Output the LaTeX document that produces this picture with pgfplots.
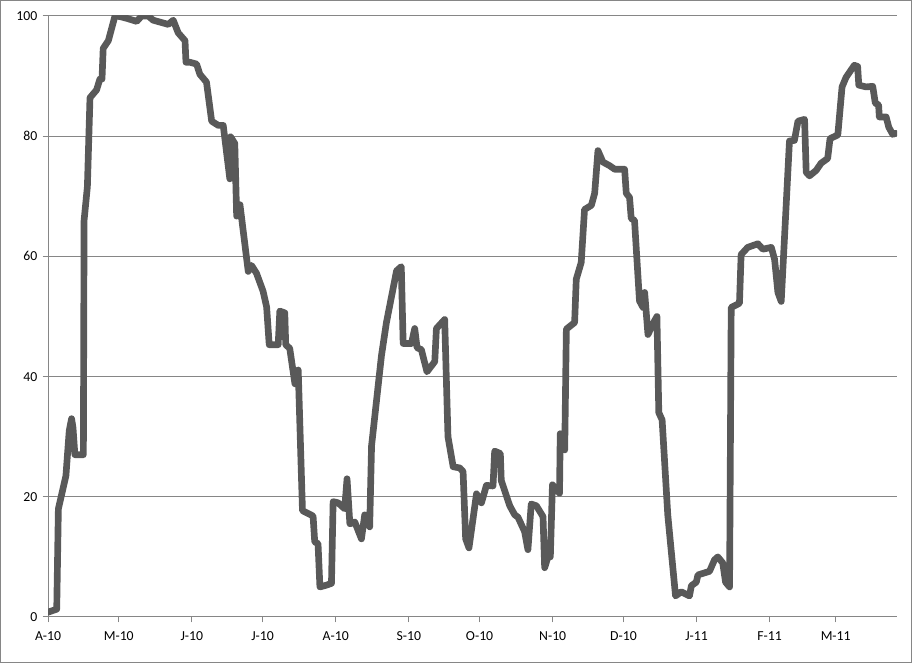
\documentclass[border=0pt]{standalone}
\usepackage{pgfplots}
\pgfplotsset{compat=1.18}
\usepackage{fontspec}
\setmainfont{Carlito}
\definecolor{gridgray}{HTML}{868686}
\definecolor{linegray}{HTML}{595959}
\begin{document}
\begin{tikzpicture}
\useasboundingbox (0,0) rectangle (684.75pt,497.25pt);
\draw[gridgray, line width=0.75pt] (0.6pt,0.6pt) rectangle (683.9pt,496.6pt);
\begin{axis}[
  at={(36pt,34.5pt)}, anchor=south west,
  scale only axis, width=636.75pt, height=450.75pt,
  xmin=0, xmax=360, ymin=0, ymax=100,
  xtick={0,30,61,91,122,153,183,214,244,275,306,334},
  xticklabels={A-10,M-10,J-10,J-10,A-10,S-10,O-10,N-10,D-10,J-11,F-11,M-11},
  ytick={0,20,40,60,80,100},
  ymajorgrids, grid style={gridgray, line width=0.75pt},
  axis x line*=bottom, axis y line*=left,
  axis line style={gridgray, line width=0.75pt, -},
  tick style={gridgray, line width=0.75pt},
  tick align=outside, major tick length=4pt,
  tick label style={font=\fontsize{10.3}{12}\selectfont, text=black},
  xticklabel style={yshift=-3.5pt},
  yticklabel style={xshift=-0.5pt},
  /pgf/number format/assume math mode=true,
]
\addplot[linegray, line width=5pt, line join=round, line cap=round] coordinates {
(0,0.8) (3.7,1.3) (4.4,18) (7.6,23.5) (9.0,31) (10.0,33) (10.6,31.5) (11.4,27) (15.0,27)
(15.3,66) (16.7,71.6) (17.8,86.4) (20.6,87.7) (22,89.5) (22.9,89.5) (23.4,94.6) (25.6,95.9)
(28.4,100) (30.5,99.9) (33.5,99.6) (37.6,99.1) (39.7,100) (42.5,100) (44.6,99.3) (51.0,98.6)
(53.1,99.3) (55.2,97.2) (58.1,95.9) (58.5,92.3) (60.2,92.3) (63.0,92) (64.4,90.3) (67.2,89)
(69.4,82.5) (72.2,81.8) (74.3,81.8) (77.1,72.9) (77.4,79.9) (79.2,78.8) (80.0,66.7) (81.4,68.6)
(84.9,57.5) (86.3,58.5) (88.4,57.2) (91.2,54.2) (92.7,51.6) (93.8,45.3) (97.6,45.3) (98.3,50.9)
(100.4,50.6) (100.8,45.3) (102.5,44.7) (104.7,38.8) (106.1,41.1) (107.9,17.7) (112.4,16.8)
(113.1,12.5) (114.5,12.2) (115.3,5) (118.1,5.3) (120.2,5.6) (120.9,19.2) (123.0,19) (125.8,18)
(126.8,23) (128,15.5) (130.1,15.8) (132.9,13) (134.3,17) (136.4,15) (137.2,28.5) (140,38.5)
(141.4,43.5) (143.5,49) (147.8,57.6) (149.8,58.3) (150.6,45.5) (154.1,45.5) (155.5,48)
(156.5,44.8) (158.3,44.5) (160.7,40.8) (164,42.5) (164.7,48) (168.2,49.5) (169.6,30) (171.8,25)
(174.6,24.8) (176,24.2) (177.1,13) (178.5,11.5) (181.7,20.5) (183.8,19) (185.9,21.9) (188.7,21.8)
(189.4,27.6) (191.8,27.2) (192.2,22.7) (195.8,18.5) (197.9,17.0) (199.3,16.6) (202.1,14.2)
(203.5,11.2) (204.9,18.8) (207.1,18.5) (209.9,16.7) (210.6,8.2) (212,10) (213,10) (213.9,22)
(216.9,20.6) (217.2,30.5) (219.1,27.8) (219.8,47.9) (223.3,49) (224,56.2) (226.1,59) (227.5,67.8)
(230.4,68.5) (231.8,70.5) (233.2,77.6) (235.3,75.7) (238.1,75.1) (240.3,74.5) (244.5,74.5)
(245.2,70.5) (246.6,69.8) (247.3,66.3) (248.7,66) (250.8,52.6) (252.3,51.5) (253,54) (254.4,47)
(256.8,49) (258.2,50) (259,34) (260.4,32.8) (262.8,17) (266.1,3.5) (268.5,4.2) (272,3.5)
(272.8,5.2) (274.9,5.8) (275.6,7) (280.5,7.6) (282.6,9.5) (284,10) (286.1,9) (287.3,5.8) (289,5)
(289.7,51.5) (293.2,52.2) (293.9,60.3) (296.7,61.5) (301.0,62.1) (303.1,61.2) (306.7,61.5)
(308.1,59.5) (309.5,54) (310.9,52.5) (314.4,79.2) (316.5,79.3) (318,82.5) (320.8,82.8) (321.5,74)
(322.9,73.4) (325.7,74.3) (327.8,75.5) (330.6,76.3) (331.6,79.6) (334.9,80.2) (336.7,88.2)
(338.4,89.8) (341.9,91.8) (343.3,91.6) (343.8,88.5) (346.9,88.2) (349.7,88.3) (350.8,85.5)
(352.2,85.2) (352.5,83.2) (355.4,83.2) (356.5,81.5) (358.2,80.3) (359.3,80.5)
};
\end{axis}
\end{tikzpicture}
\end{document}
